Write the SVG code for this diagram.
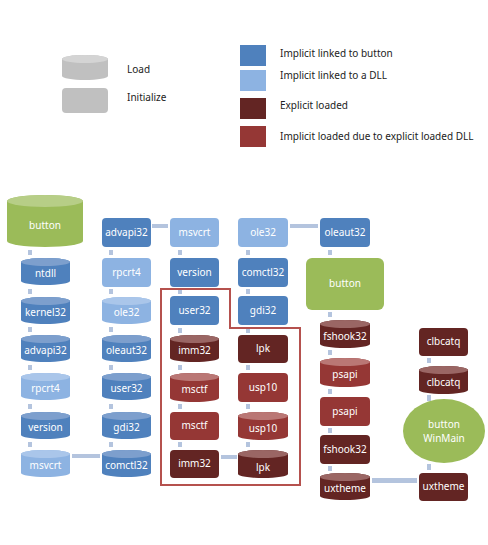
<svg xmlns="http://www.w3.org/2000/svg" width="488" height="545" viewBox="0 0 488 545">
<style>
text{font-family:"Noto Sans","DejaVu Sans",sans-serif;font-size:10px}
.t{fill:#fff;text-anchor:middle}
.lg{fill:#222}
.db{fill:#4F81BD}.dbt{fill:#7D9FCD}
.lb{fill:#8DB3E2}.lbt{fill:#AAC6EA}
.mr{fill:#632523}.mrt{fill:#9A6664}
.rd{fill:#953735}.rdt{fill:#BA7775}
.gr{fill:#9BBB59}.grt{fill:#B7CE87}
.gy{fill:#C0C0C0}.gyt{fill:#D4D4D4}
.c{fill:#B4C4DE}
</style>
<rect width="488" height="545" fill="#fff"/>
<g id="legend">
<path class="gy" d="M62,59 A23,4 0 0 1 108,59 V76 A23,4 0 0 1 62,76 Z"/>
<ellipse class="gyt" cx="85" cy="59" rx="23" ry="4"/>
<rect class="gy" x="62" y="88" width="46" height="25" rx="4"/>
<text class="lg" x="127" y="73">Load</text>
<text class="lg" x="127" y="101">Initialize</text>
<rect class="db" x="240" y="45" width="26" height="21"/>
<rect class="lb" x="240" y="70" width="26" height="21"/>
<rect class="mr" x="240" y="98" width="26" height="21"/>
<rect class="rd" x="240" y="126" width="26" height="21"/>
<text class="lg" x="280" y="57">Implicit linked to button</text>
<text class="lg" x="280" y="79">Implicit linked to a DLL</text>
<text class="lg" x="280" y="109">Explicit loaded</text>
<text class="lg" x="280" y="140">Implicit loaded due to explicit loaded DLL</text>
</g>
<g id="connectors">
<rect class="c" x="28" y="250" width="4" height="5"/>
<rect class="c" x="28" y="289" width="4" height="5"/>
<rect class="c" x="28" y="327" width="4" height="5"/>
<rect class="c" x="28" y="365" width="4" height="5"/>
<rect class="c" x="28" y="404" width="4" height="5"/>
<rect class="c" x="28" y="442" width="4" height="5"/>
<rect class="c" x="109" y="250" width="4" height="5"/>
<rect class="c" x="109" y="289" width="4" height="5"/>
<rect class="c" x="109" y="327" width="4" height="5"/>
<rect class="c" x="109" y="365" width="4" height="5"/>
<rect class="c" x="109" y="404" width="4" height="5"/>
<rect class="c" x="109" y="442" width="4" height="5"/>
<rect class="c" x="178" y="250" width="4" height="5"/>
<rect class="c" x="178" y="289" width="4" height="5"/>
<rect class="c" x="178" y="328" width="4" height="5"/>
<rect class="c" x="178" y="365" width="4" height="5"/>
<rect class="c" x="178" y="404" width="4" height="5"/>
<rect class="c" x="178" y="442" width="4" height="5"/>
<rect class="c" x="246" y="250" width="4" height="5"/>
<rect class="c" x="246" y="289" width="4" height="5"/>
<rect class="c" x="246" y="328" width="4" height="5"/>
<rect class="c" x="246" y="365" width="4" height="5"/>
<rect class="c" x="246" y="404" width="4" height="5"/>
<rect class="c" x="246" y="442" width="4" height="5"/>
<rect class="c" x="328" y="250" width="4" height="5"/>
<rect class="c" x="328" y="312" width="4" height="5"/>
<rect class="c" x="328" y="350" width="4" height="5"/>
<rect class="c" x="328" y="389" width="4" height="5"/>
<rect class="c" x="328" y="428" width="4" height="5"/>
<rect class="c" x="328" y="466" width="4" height="5"/>
<rect class="c" x="427" y="358" width="4" height="5"/>
<rect class="c" x="427" y="395" width="4" height="6"/>
<rect class="c" x="427" y="464" width="4" height="6"/>
<rect class="c" x="72" y="454" width="28" height="4"/>
<rect class="c" x="152" y="224" width="16" height="4"/>
<rect class="c" x="221" y="455" width="16" height="4"/>
<rect class="c" x="290" y="224" width="28" height="4"/>
<rect class="c" x="372" y="478" width="45" height="5"/>
</g>
<path id="explicit-box" d="M161,289 H230 V328 H300 V485 H161 Z" fill="none" stroke="#B5514E" stroke-width="2"/>
<g id="a-button"><path class="gr" d="M7,201 A38,6 0 0 1 83,201 V241 A38,6 0 0 1 7,241 Z"/><ellipse class="grt" cx="45" cy="201" rx="38" ry="6"/><text class="t" x="45" y="229">button</text></g>
<g id="a-ntdll"><path class="db" d="M21,262 A24.5,4 0 0 1 70,262 V281 A24.5,4 0 0 1 21,281 Z"/><ellipse class="dbt" cx="45.5" cy="262" rx="24.5" ry="4"/><text class="t" x="45.5" y="277">ntdll</text></g>
<g id="a-kernel32"><path class="db" d="M21,301 A24.5,4 0 0 1 70,301 V320 A24.5,4 0 0 1 21,320 Z"/><ellipse class="dbt" cx="45.5" cy="301" rx="24.5" ry="4"/><text class="t" x="45.5" y="316">kernel32</text></g>
<g id="a-advapi32"><path class="db" d="M21,339 A24.5,4 0 0 1 70,339 V358 A24.5,4 0 0 1 21,358 Z"/><ellipse class="dbt" cx="45.5" cy="339" rx="24.5" ry="4"/><text class="t" x="45.5" y="354">advapi32</text></g>
<g id="a-rpcrt4"><path class="lb" d="M21,377 A24.5,4 0 0 1 70,377 V396 A24.5,4 0 0 1 21,396 Z"/><ellipse class="lbt" cx="45.5" cy="377" rx="24.5" ry="4"/><text class="t" x="45.5" y="392">rpcrt4</text></g>
<g id="a-version"><path class="db" d="M21,416 A24.5,4 0 0 1 70,416 V435 A24.5,4 0 0 1 21,435 Z"/><ellipse class="dbt" cx="45.5" cy="416" rx="24.5" ry="4"/><text class="t" x="45.5" y="431">version</text></g>
<g id="a-msvcrt"><path class="lb" d="M21,454 A24.5,4 0 0 1 70,454 V473 A24.5,4 0 0 1 21,473 Z"/><ellipse class="lbt" cx="45.5" cy="454" rx="24.5" ry="4"/><text class="t" x="45.5" y="469">msvcrt</text></g>
<g id="b-advapi32"><rect class="db" x="102" y="218" width="49" height="29" rx="4"/><text class="t" x="126.5" y="236">advapi32</text></g>
<g id="b-rpcrt4"><rect class="lb" x="102" y="258" width="49" height="29" rx="4"/><text class="t" x="126.5" y="276">rpcrt4</text></g>
<g id="b-ole32"><path class="lb" d="M102,301 A24.5,4 0 0 1 151,301 V320 A24.5,4 0 0 1 102,320 Z"/><ellipse class="lbt" cx="126.5" cy="301" rx="24.5" ry="4"/><text class="t" x="126.5" y="316">ole32</text></g>
<g id="b-oleaut32"><path class="db" d="M102,339 A24.5,4 0 0 1 151,339 V358 A24.5,4 0 0 1 102,358 Z"/><ellipse class="dbt" cx="126.5" cy="339" rx="24.5" ry="4"/><text class="t" x="126.5" y="354">oleaut32</text></g>
<g id="b-user32"><path class="db" d="M102,377 A24.5,4 0 0 1 151,377 V396 A24.5,4 0 0 1 102,396 Z"/><ellipse class="dbt" cx="126.5" cy="377" rx="24.5" ry="4"/><text class="t" x="126.5" y="392">user32</text></g>
<g id="b-gdi32"><path class="db" d="M102,416 A24.5,4 0 0 1 151,416 V435 A24.5,4 0 0 1 102,435 Z"/><ellipse class="dbt" cx="126.5" cy="416" rx="24.5" ry="4"/><text class="t" x="126.5" y="431">gdi32</text></g>
<g id="b-comctl32"><path class="db" d="M102,454 A24.5,4 0 0 1 151,454 V473 A24.5,4 0 0 1 102,473 Z"/><ellipse class="dbt" cx="126.5" cy="454" rx="24.5" ry="4"/><text class="t" x="126.5" y="469">comctl32</text></g>
<g id="c-msvcrt"><rect class="lb" x="170" y="218" width="49" height="29" rx="4"/><text class="t" x="194.5" y="236">msvcrt</text></g>
<g id="c-version"><rect class="db" x="170" y="258" width="49" height="29" rx="4"/><text class="t" x="194.5" y="276">version</text></g>
<g id="c-user32"><rect class="db" x="170" y="296" width="49" height="29" rx="4"/><text class="t" x="194.5" y="314">user32</text></g>
<g id="c-imm32"><path class="mr" d="M170,339 A24.5,4 0 0 1 219,339 V358 A24.5,4 0 0 1 170,358 Z"/><ellipse class="mrt" cx="194.5" cy="339" rx="24.5" ry="4"/><text class="t" x="194.5" y="354">imm32</text></g>
<g id="c-msctf"><path class="rd" d="M170,377 A24.5,4 0 0 1 219,377 V398 A24.5,4 0 0 1 170,398 Z"/><ellipse class="rdt" cx="194.5" cy="377" rx="24.5" ry="4"/><text class="t" x="194.5" y="393">msctf</text></g>
<g id="c-msctf2"><rect class="rd" x="170" y="412" width="49" height="28" rx="4"/><text class="t" x="194.5" y="429">msctf</text></g>
<g id="c-imm32b"><rect class="mr" x="170" y="450" width="49" height="28" rx="4"/><text class="t" x="194.5" y="467">imm32</text></g>
<g id="d-ole32"><rect class="lb" x="238" y="218" width="50" height="29" rx="4"/><text class="t" x="263" y="236">ole32</text></g>
<g id="d-comctl32"><rect class="db" x="238" y="258" width="50" height="29" rx="4"/><text class="t" x="263" y="276">comctl32</text></g>
<g id="d-gdi32"><rect class="db" x="238" y="296" width="50" height="29" rx="4"/><text class="t" x="263" y="314">gdi32</text></g>
<g id="d-lpk"><rect class="mr" x="238" y="335" width="50" height="28" rx="4"/><text class="t" x="263" y="352">lpk</text></g>
<g id="d-usp10"><rect class="rd" x="238" y="373" width="50" height="29" rx="4"/><text class="t" x="263" y="391">usp10</text></g>
<g id="d-usp10b"><path class="rd" d="M238,416 A25,4 0 0 1 288,416 V436 A25,4 0 0 1 238,436 Z"/><ellipse class="rdt" cx="263" cy="416" rx="25" ry="4"/><text class="t" x="263" y="432">usp10</text></g>
<g id="d-lpkb"><path class="mr" d="M238,454 A25,4 0 0 1 288,454 V474 A25,4 0 0 1 238,474 Z"/><ellipse class="mrt" cx="263" cy="454" rx="25" ry="4"/><text class="t" x="263" y="471">lpk</text></g>
<g id="e-oleaut32"><rect class="db" x="320" y="218" width="50" height="29" rx="4"/><text class="t" x="345" y="236">oleaut32</text></g>
<g id="e-button"><rect class="gr" x="306" y="258" width="78" height="52" rx="6"/><text class="t" x="345" y="287">button</text></g>
<g id="e-fshook32"><path class="mr" d="M320,324 A25,4 0 0 1 370,324 V344 A25,4 0 0 1 320,344 Z"/><ellipse class="mrt" cx="345" cy="324" rx="25" ry="4"/><text class="t" x="345" y="340">fshook32</text></g>
<g id="e-psapi"><path class="rd" d="M320,362 A25,4 0 0 1 370,362 V383 A25,4 0 0 1 320,383 Z"/><ellipse class="rdt" cx="345" cy="362" rx="25" ry="4"/><text class="t" x="345" y="378">psapi</text></g>
<g id="e-psapi2"><rect class="rd" x="320" y="397" width="50" height="29" rx="4"/><text class="t" x="345" y="415">psapi</text></g>
<g id="e-fshook32b"><rect class="mr" x="320" y="435" width="50" height="29" rx="4"/><text class="t" x="345" y="453">fshook32</text></g>
<g id="e-uxtheme"><path class="mr" d="M320,477 A25,4 0 0 1 370,477 V496 A25,4 0 0 1 320,496 Z"/><ellipse class="mrt" cx="345" cy="477" rx="25" ry="4"/><text class="t" x="345" y="492">uxtheme</text></g>
<g id="f-clbcatq"><rect class="mr" x="419" y="328" width="49" height="28" rx="4"/><text class="t" x="443.5" y="345">clbcatq</text></g>
<g id="f-clbcatqb"><path class="mr" d="M419,370 A24.5,4 0 0 1 468,370 V390 A24.5,4 0 0 1 419,390 Z"/><ellipse class="mrt" cx="443.5" cy="370" rx="24.5" ry="4"/><text class="t" x="443.5" y="386">clbcatq</text></g>
<g id="f-winmain"><ellipse class="gr" cx="444" cy="431" rx="41" ry="32"/><text class="t" x="444" y="428">button</text><text class="t" x="444" y="442">WinMain</text></g>
<g id="f-uxtheme"><rect class="mr" x="419" y="473" width="49" height="28" rx="4"/><text class="t" x="443.5" y="490">uxtheme</text></g>
</svg>
